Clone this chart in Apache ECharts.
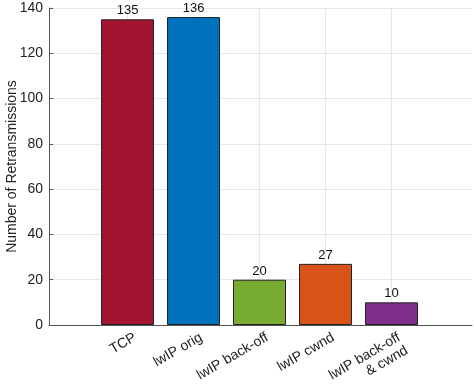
<!DOCTYPE html>
<html>
<head>
<meta charset="utf-8">
<script src="https://cdn.jsdelivr.net/npm/echarts@6/dist/echarts.min.js"></script>
<style>
  html, body { margin: 0; padding: 0; background: #fff; }
  #main { width: 474px; height: 387px; }
</style>
</head>
<body>
<div id="main"></div>
<script>
// categories and values
var categories = ['TCP', 'lwIP orig', 'lwIP back-off', 'lwIP cwnd', 'lwIP back-off\n& cwnd'];
var retransmissions = [135, 136, 20, 27, 10];
var barColors = ['#A2142F', '#0072BD', '#77AC30', '#D95319', '#7E2F8E'];
var categoryPos = [1, 2, 3, 4, 5];

var font = 'Liberation Sans, Arial, sans-serif';

var barData = retransmissions.map(function (v, i) {
    return {
        value: [categoryPos[i], v],
        itemStyle: { color: barColors[i] }
    };
});

// rotated labels hang a little to the right of their tick, like matlab does
var labelShift = 0.06;
var labelPos = categoryPos.map(function (p) { return p + labelShift; });

var myChart = echarts.init(document.getElementById('main'));
myChart.setOption({
    animation: false,
    textStyle: { fontFamily: font },
    grid: { left: 49, right: 2, top: 8, bottom: 62, containLabel: false, outerBoundsMode: 'none' },
    xAxis: {
        type: 'value',
        min: -0.19,
        max: 6.22,
        axisLine: { show: true, onZero: false, lineStyle: { color: '#555', width: 1 } },
        axisTick: { show: false, customValues: categoryPos },
        axisLabel: {
            customValues: labelPos,
            rotate: 30,
            align: 'right',
            verticalAlign: 'top',
            color: '#222',
            fontSize: 14,
            lineHeight: 15,
            fontFamily: font,
            margin: 5,
            formatter: function (v) { return categories[Math.round(v - labelShift) - 1]; }
        },
        splitLine: { show: true, lineStyle: { color: '#e6e6e6', width: 1 } }
    },
    yAxis: {
        type: 'value',
        min: 0,
        max: 140,
        interval: 20,
        axisLabel: { fontSize: 14, color: '#222', fontFamily: font, margin: 6 },
        name: 'Number of Retransmissions',
        nameLocation: 'middle',
        nameGap: 30,
        nameMoveOverlap: false,
        nameTextStyle: { fontSize: 14, color: '#222', fontFamily: font },
        axisLine: { show: true, onZero: false, lineStyle: { color: '#555', width: 1 } },
        axisTick: { show: true, inside: true, length: 4, lineStyle: { color: '#555' } },
        splitLine: { show: true, lineStyle: { color: '#e6e6e6', width: 1 } }
    },
    series: [{
        type: 'bar',
        data: barData,
        barWidth: 53,
        itemStyle: { borderColor: '#222', borderWidth: 1 },
        label: {
            show: true,
            position: 'top',
            distance: 2,
            color: '#111',
            fontSize: 13,
            fontFamily: font,
            formatter: function (p) { return p.value[1]; }
        }
    }]
});
</script>
</body>
</html>
